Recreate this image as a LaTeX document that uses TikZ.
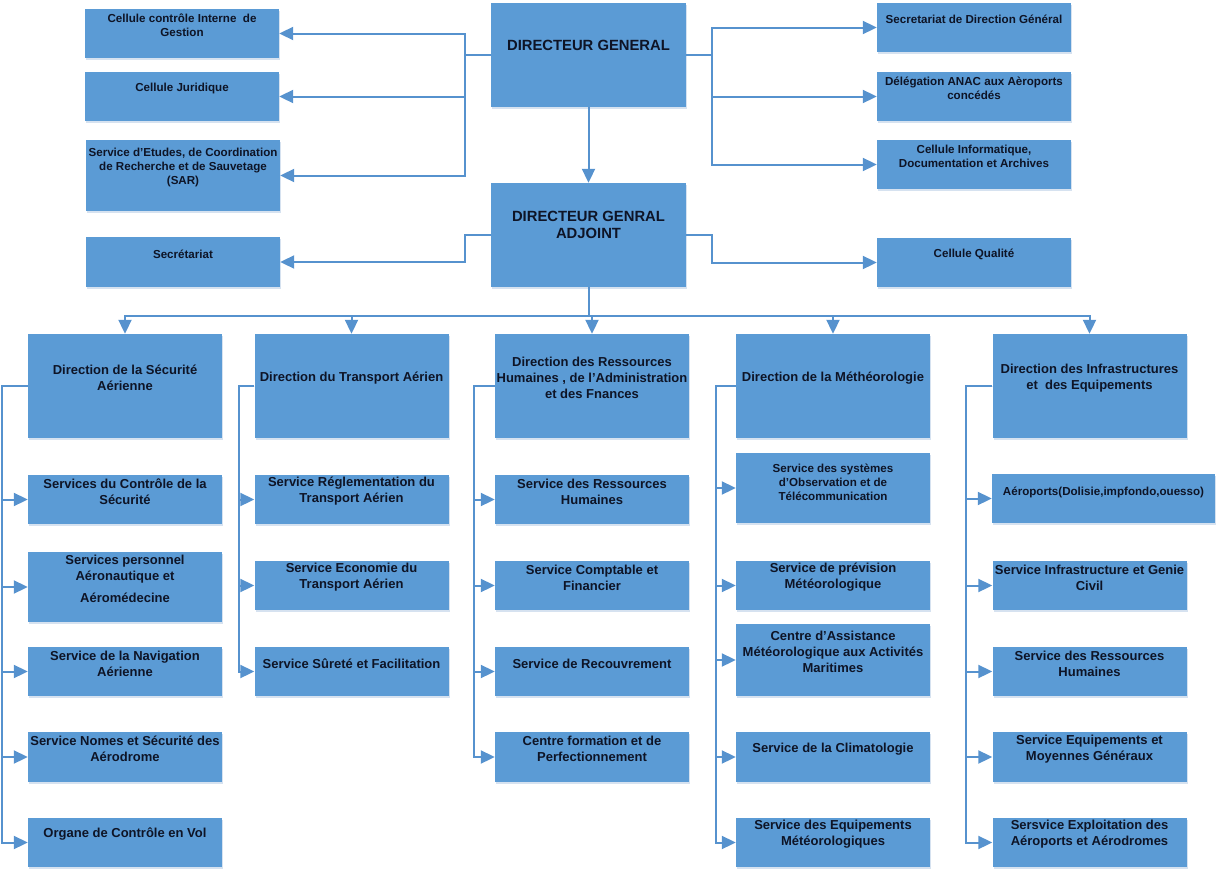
\documentclass[tikz,border=0pt]{standalone}
\usepackage{fontspec}
\setmainfont{Liberation Sans}
\usetikzlibrary{arrows.meta,shadows}
\definecolor{orgBlue}{RGB}{91,155,213}
\definecolor{orgLine}{RGB}{86,146,206}
\definecolor{orgInk}{RGB}{14,20,38}
\definecolor{orgShade}{RGB}{214,226,240}
\tikzset{
  cellbox/.style={rectangle,fill=orgBlue,inner sep=0pt,minimum width=194bp,minimum height=49bp,
    drop shadow={shadow xshift=1bp,shadow yshift=-2bp,fill=orgShade,opacity=1}},
  dirbox/.style={cellbox,minimum height=104bp},
  midbox/.style={cellbox,minimum height=70bp},
  lbl/.style={align=center,inner sep=0pt,text=orgInk,yshift=8bp,font=\fontsize{13bp}{16bp}\selectfont\bfseries},
  toplbl/.style={align=center,inner sep=0pt,text=orgInk,yshift=8bp,font=\fontsize{11.6bp}{14bp}\selectfont\bfseries},
  headlbl/.style={align=center,inner sep=0pt,text=orgInk,yshift=10bp,font=\fontsize{14.8bp}{17bp}\selectfont\bfseries},
  link/.style={draw=orgLine,line width=2bp,-{Triangle[length=14bp,width=13bp]}}
}
\begin{document}
\begin{tikzpicture}[x=1bp,y=-1bp]
\useasboundingbox (0,0) rectangle (1222,877);

% direction generale
\node[dirbox,minimum width=195bp,label={[headlbl]center:{DIRECTEUR GENERAL}}] (dg) at (588.5,55) {};
\node[dirbox,minimum width=195bp,label={[headlbl]center:{DIRECTEUR GENRAL\\ADJOINT}}] (dga) at (588.5,235) {};

% cellules rattachees
\node[cellbox,label={[toplbl]center:{Cellule contrôle Interne\ \ de\\Gestion}}] (cig) at (182,33.5) {};
\node[cellbox,label={[toplbl]center:{Cellule Juridique}}] (cjur) at (182,96.5) {};
\node[cellbox,minimum height=71bp,label={[toplbl]center:{Service d’Etudes, de Coordination\\de Recherche et de Sauvetage\\(SAR)}}] (sar) at (183,175.5) {};
\node[cellbox,minimum height=50bp,label={[toplbl]center:{Secrétariat}}] (secr) at (183,262) {};
\node[cellbox,label={[toplbl]center:{Secretariat de Direction Général}}] (sdg) at (974,27.5) {};
\node[cellbox,label={[toplbl]center:{Délégation ANAC aux Aèroports\\concédés}}] (anac) at (974,96.5) {};
\node[cellbox,label={[toplbl]center:{Cellule Informatique,\\Documentation et Archives}}] (cinf) at (974,164.5) {};
\node[cellbox,label={[toplbl]center:{Cellule Qualité}}] (cqual) at (974,262.5) {};

% directions
\node[dirbox,label={[lbl]center:{Direction de la Sécurité\\Aérienne}}] (dsa) at (125,386) {};
\node[dirbox,label={[lbl]center:{Direction du Transport Aérien}}] (dta) at (351.5,386) {};
\node[dirbox,label={[lbl]center:{Direction des Ressources\\Humaines , de l’Administration\\et des Fnances}}] (drh) at (592,386) {};
\node[dirbox,label={[lbl]center:{Direction de la Méthéorologie}}] (dmet) at (833,386) {};
\node[dirbox,label={[lbl]center:{Direction des Infrastructures\\et\ \ des Equipements}}] (dinf) at (1089.5,386) {};

% services securite aerienne
\node[cellbox,label={[lbl]center:{Services du Contrôle de la\\Sécurité}}] (s11) at (125,499.5) {};
\node[midbox,label={[lbl]center:{Services personnel\\Aéronautique et\\[6bp]Aéromédecine}}] (s12) at (125,587) {};
\node[cellbox,label={[lbl]center:{Service de la Navigation\\Aérienne}}] (s13) at (125,671.5) {};
\node[cellbox,minimum height=50bp,label={[lbl]center:{Service Nomes et Sécurité des\\Aérodrome}}] (s14) at (125,757) {};
\node[cellbox,label={[lbl]center:{Organe de Contrôle en Vol}}] (s15) at (125,842.5) {};

% services transport aerien
\node[cellbox,label={[lbl]center:{Service Réglementation du\\Transport Aérien}}] (s21) at (351.5,499.5) {};
\node[cellbox,label={[lbl]center:{Service Economie du\\Transport Aérien}}] (s22) at (351.5,585.5) {};
\node[cellbox,label={[lbl]center:{Service Sûreté et Facilitation}}] (s23) at (351.5,671.5) {};

% services ressources humaines
\node[cellbox,label={[lbl]center:{Service des Ressources\\Humaines}}] (s31) at (592,499.5) {};
\node[cellbox,label={[lbl]center:{Service Comptable et\\Financier}}] (s32) at (592,585.5) {};
\node[cellbox,label={[lbl]center:{Service de Recouvrement}}] (s33) at (592,671.5) {};
\node[cellbox,minimum height=50bp,label={[lbl]center:{Centre formation et de\\Perfectionnement}}] (s34) at (592,757) {};

% services meteorologie
\node[midbox,label={[toplbl,yshift=-2bp]center:{Service des systèmes\\d’Observation et de\\Télécommunication}}] (s41) at (833,488) {};
\node[cellbox,label={[lbl]center:{Service de prévision\\Météorologique}}] (s42) at (833,585.5) {};
\node[cellbox,minimum height=72bp,label={[lbl]center:{Centre d’Assistance\\Météorologique aux Activités\\Maritimes}}] (s43) at (833,660) {};
\node[cellbox,minimum height=50bp,label={[lbl]center:{Service de la Climatologie}}] (s44) at (833,757) {};
\node[cellbox,label={[lbl]center:{Service des Equipements\\Météorologiques}}] (s45) at (833,842.5) {};

% services infrastructures
\node[cellbox,minimum width=223bp,label={[toplbl,yshift=-2bp]center:{Aéroports(Dolisie,impfondo,ouesso)}}] (s51) at (1103.5,498.5) {};
\node[cellbox,label={[lbl]center:{Service Infrastructure et Genie\\Civil}}] (s52) at (1089.5,585.5) {};
\node[cellbox,label={[lbl]center:{Service des Ressources\\Humaines}}] (s53) at (1089.5,671.5) {};
\node[cellbox,minimum height=50bp,label={[lbl]center:{Service Equipements et\\Moyennes Généraux}}] (s54) at (1089.5,757) {};
\node[cellbox,label={[lbl]center:{Sersvice Exploitation des\\Aéroports et Aérodromes}}] (s55) at (1089.5,842.5) {};

% liaisons du haut
\draw[link] (dg.west) -- ++(-26,0) |- (cig.east);
\draw[link] (dg.west) -- ++(-26,0) |- (cjur.east);
\draw[link] (dg.west) -- ++(-26,0) |- (sar.east);
\draw[link] (dg.east) -- ++(26,0) |- (sdg.west);
\draw[link] (dg.east) -- ++(26,0) |- (anac.west);
\draw[link] (dg.east) -- ++(26,0) |- (cinf.west);
\draw[link] (dg) -- (dga);
\draw[link] (dga.west) -- ++(-26,0) |- (secr.east);
\draw[link] (dga.east) -- ++(26,0) |- (cqual.west);

% vers les directions
\draw[link] (dga.south) -- ++(0,29) -| (dsa.north);
\draw[link] (dga.south) -- ++(0,29) -| (dta.north);
\draw[link] (dga.south) -- ++(0,29) -| (drh.north);
\draw[link] (dga.south) -- ++(0,29) -| (dmet.north);
\draw[link] (dga.south) -- ++(0,29) -| (dinf.north);

% vers les services
\draw[link] (dsa.west) -- ++(-26,0) |- (s11.west);
\draw[link] (dsa.west) -- ++(-26,0) |- (s12.west);
\draw[link] (dsa.west) -- ++(-26,0) |- (s13.west);
\draw[link] (dsa.west) -- ++(-26,0) |- (s14.west);
\draw[link] (dsa.west) -- ++(-26,0) |- (s15.west);
\draw[link] (dta.west) -- ++(-15,0) |- (s21.west);
\draw[link] (dta.west) -- ++(-15,0) |- (s22.west);
\draw[link] (dta.west) -- ++(-15,0) |- (s23.west);
\draw[link] (drh.west) -- ++(-21,0) |- (s31.west);
\draw[link] (drh.west) -- ++(-21,0) |- (s32.west);
\draw[link] (drh.west) -- ++(-21,0) |- (s33.west);
\draw[link] (drh.west) -- ++(-21,0) |- (s34.west);
\draw[link] (dmet.west) -- ++(-20,0) |- (s41.west);
\draw[link] (dmet.west) -- ++(-20,0) |- (s42.west);
\draw[link] (dmet.west) -- ++(-20,0) |- (s43.west);
\draw[link] (dmet.west) -- ++(-20,0) |- (s44.west);
\draw[link] (dmet.west) -- ++(-20,0) |- (s45.west);
\draw[link] (dinf.west) -- ++(-26,0) |- (s51.west);
\draw[link] (dinf.west) -- ++(-26,0) |- (s52.west);
\draw[link] (dinf.west) -- ++(-26,0) |- (s53.west);
\draw[link] (dinf.west) -- ++(-26,0) |- (s54.west);
\draw[link] (dinf.west) -- ++(-26,0) |- (s55.west);
\end{tikzpicture}
\end{document}
